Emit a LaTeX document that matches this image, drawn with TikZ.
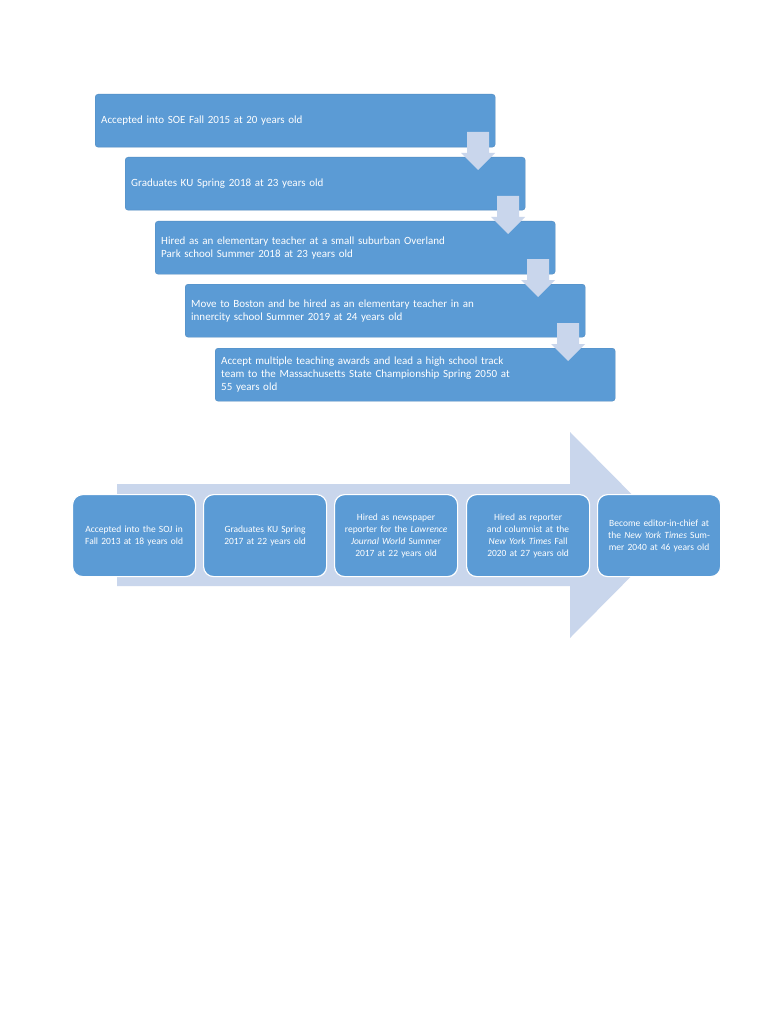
\documentclass[tikz,border=0pt]{standalone}
\usepackage{fontspec}
\setmainfont{Carlito}
\definecolor{boxblue}{HTML}{5B9BD5}
\definecolor{pale}{HTML}{C9D6EC}
\tikzset{
  stepbox/.style={fill=boxblue, draw=boxblue!90!black, line width=0.4pt, rounded corners=3pt,
    anchor=north west, minimum width=400, minimum height=53, text width=388, align=left,
    inner sep=5pt, text=white, font=\fontsize{11}{13}\selectfont},
  timebox/.style={fill=boxblue, draw=white, line width=1.2pt, rounded corners=10pt,
    anchor=north west, minimum width=123, minimum height=82, text width=110, align=center,
    inner sep=3pt, text=white, font=\fontsize{9.5}{12}\selectfont},
}
\newcommand{\downarr}[2]{%
  \fill[pale] (#1-11,#2) -- (#1+11,#2) -- (#1+11,#2+21) -- (#1+17,#2+21)
    -- (#1,#2+38) -- (#1-17,#2+21) -- (#1-11,#2+21) -- cycle;}
\begin{document}
\begin{tikzpicture}[x=1pt,y=-1pt]
  \useasboundingbox[fill=white] (0,0) rectangle (768,1024);

  % vertical steps
  \node[stepbox] (s1) at (95,94) {Accepted into SOE Fall 2015 at 20 years old};
  \node[stepbox] (s2) at (125,157) {Graduates KU Spring 2018 at 23 years old};
  \node[stepbox] (s3) at (155,221) {Hired as an elementary teacher at a small suburban Overland\\Park school Summer 2018 at 23 years old};
  \node[stepbox] (s4) at (185,284) {Move to Boston and be hired as an elementary teacher in an\\innercity school Summer 2019 at 24 years old};
  \node[stepbox] (s5) at (215,348) {Accept multiple teaching awards and lead a high school track\\team to the Massachusetts State Championship Spring 2050 at\\55 years old};

  \downarr{478}{132}
  \downarr{508}{196}
  \downarr{538}{259}
  \downarr{568}{323}

  % horizontal timeline
  \fill[pale] (117,484) -- (570,484) -- (570,432) -- (672,535) -- (570,638)
    -- (570,586) -- (117,586) -- cycle;

  \node[timebox] (t1) at (72,494) {Accepted into the SOJ in Fall 2013 at 18 years old};
  \node[timebox] (t2) at (203,494) {Graduates KU Spring 2017 at 22 years old};
  \node[timebox] (t3) at (334,494) {Hired as newspaper reporter for the \emph{Lawrence Journal World} Summer 2017 at 22 years old};
  \node[timebox] (t4) at (466,494) {Hired as reporter and columnist at the \emph{New York Times} Fall 2020 at 27 years old};
  \node[timebox] (t5) at (597,494) {Become editor-in-chief at the \emph{New York Times} Summer 2040 at 46 years old};
\end{tikzpicture}
\end{document}
